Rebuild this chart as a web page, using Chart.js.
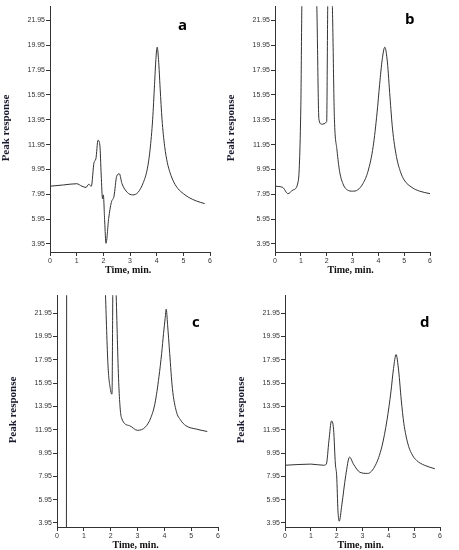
<!DOCTYPE html><html><head><meta charset="utf-8">
<script src="https://cdn.jsdelivr.net/npm/chart.js@4"></script>
<style>
body{margin:0;background:#fff;width:459px;height:550px;position:relative;overflow:hidden}
canvas{position:absolute}
.yl{position:absolute;font:bold 11px "Liberation Serif";color:#1a1a2e;transform:rotate(-90deg);transform-origin:center;white-space:nowrap}
.xl{position:absolute;font:bold 10px "Liberation Serif";color:#111;white-space:nowrap}
.lt{position:absolute;font:bold 15px "Open Sans";color:#000}
</style></head><body>
<div id="w"></div>
<script>
const yTicks=[3.95,5.95,7.95,9.95,11.95,13.95,15.95,17.95,19.95,21.95];
const xTicks=[0,1,2,3,4,5,6];
const aX=[0,0.5,1,1.2,1.35,1.45,1.55,1.65,1.72,1.8,1.87,1.92,1.97,2.0,2.05,2.1,2.2,2.3,2.4,2.5,2.6,2.7,2.9,3.1,3.3,3.5,3.65,3.75,3.85,3.92,3.97,4.02,4.07,4.13,4.2,4.3,4.4,4.5,4.65,4.8,5.0,5.2,5.5,5.8];
const aY=[8.6,8.7,8.8,8.6,8.5,8.75,8.6,10.5,10.8,12.3,11.9,9.5,7.6,7.9,5.8,4.0,6.0,7.3,7.8,9.4,9.6,8.8,8.1,7.9,8.1,8.9,10.0,11.5,14.0,16.8,18.8,19.8,18.8,16.5,14.0,11.8,10.5,9.7,8.9,8.4,8.0,7.7,7.4,7.2];
const bX=[0,0.3,0.5,0.7,0.9,1.0,1.05,1.6,1.7,1.8,2.0,2.05,2.2,2.3,2.4,2.5,2.65,2.8,3.0,3.2,3.4,3.6,3.8,3.95,4.05,4.15,4.25,4.35,4.45,4.55,4.7,4.85,5.0,5.3,5.6,6.0];
const bY=[8.6,8.5,8.0,8.3,9.0,15,24,24,14,13.6,13.8,24,24,14,11.5,9.8,8.7,8.3,8.2,8.3,8.8,9.8,11.8,14.5,16.8,18.8,19.8,18.6,15.8,13.2,11.0,9.8,9.1,8.5,8.2,8.0];
const cX=[0.35,0.36,null,1.8,1.9,2.0,2.05,2.08,null,2.2,2.3,2.4,2.7,3.0,3.3,3.5,3.65,3.8,3.9,3.97,4.03,4.07,4.12,4.2,4.3,4.45,4.6,4.8,5.2,5.6];
const cY=[2,24,null,24,17.5,15.3,15.0,24,null,24,16,13,12.3,11.9,12.2,13.0,14.2,16.5,18.5,20.2,21.5,22.3,21.0,18.5,15.5,13.5,12.8,12.3,12.0,11.8];
const dX=[0,1,1.5,1.6,1.7,1.8,1.88,1.95,2.0,2.05,2.1,2.2,2.35,2.5,2.65,2.9,3.2,3.5,3.75,3.95,4.1,4.2,4.3,4.4,4.5,4.6,4.75,4.9,5.1,5.4,5.8];
const dY=[8.9,9.0,8.9,9.0,11,12.7,12.0,9,8,5,4.1,5.5,8.0,9.6,9.0,8.3,8.2,8.9,10.5,12.8,15.2,17.2,18.4,17.0,14.5,12.5,10.8,9.9,9.3,8.9,8.6];
const panels=[
 {x:aX,y:aY,l:50,r:210,t:6,b:252,ymin:3.3,ymax:23.1,lt:'a',lx:178,ly:14},
 {x:bX,y:bY,l:275,r:430,t:6,b:252,ymin:3.3,ymax:23.1,lt:'b',lx:405,ly:8},
 {x:cX,y:cY,l:57,r:218,t:295,b:527,ymin:3.6,ymax:23.5,lt:'c',lx:192,ly:311},
 {x:dX,y:dY,l:285,r:440,t:295,b:527,ymin:3.6,ymax:23.5,lt:'d',lx:420,ly:311}];
const W=document.getElementById('w');
panels.forEach(p=>{
 const cv=document.createElement('canvas');
 const L=p.l-45,T=p.t-5,w=p.r-p.l+55,h=p.b-p.t+25;
 cv.style.left=L+'px';cv.style.top=T+'px';cv.style.width=w+'px';cv.style.height=h+'px';
 cv.width=w;cv.height=h;W.appendChild(cv);
 const pts=p.x.map((v,i)=>v===null?{x:null,y:null}:{x:v,y:p.y[i]});
 new Chart(cv,{type:'line',data:{datasets:[{data:pts,borderColor:'#333',borderWidth:1,pointRadius:0,cubicInterpolationMode:'monotone',spanGaps:false}]},
 options:{responsive:false,animation:false,layout:{padding:{top:5,right:10}},plugins:{legend:{display:false},tooltip:{enabled:false}},
 scales:{x:{type:'linear',min:0,max:6,afterBuildTicks:s=>{s.ticks=xTicks.map(v=>({value:v}))},afterFit:s=>{s.height=20},
   ticks:{font:{size:7},color:'#333',padding:1},grid:{drawOnChartArea:false,tickLength:4,color:'#333'},border:{color:'#333'}},
  y:{min:p.ymin,max:p.ymax,afterBuildTicks:s=>{s.ticks=yTicks.map(v=>({value:v}))},afterFit:s=>{s.width=45},
   ticks:{font:{size:7},color:'#333',padding:1,callback:v=>v.toFixed(2)},grid:{drawOnChartArea:false,tickLength:4,color:'#333'},border:{color:'#333'}}}}});
 const yl=document.createElement('div');yl.className='yl';yl.textContent='Peak response';
 yl.style.left=(p.l-85)+'px';yl.style.top=((p.t+p.b)/2-7)+'px';yl.style.width='80px';yl.style.textAlign='center';W.appendChild(yl);
 const xl=document.createElement('div');xl.className='xl';xl.textContent='Time, min.';
 xl.style.left=((p.l+p.r)/2-25)+'px';xl.style.top=(p.b+12)+'px';W.appendChild(xl);
 const lt=document.createElement('div');lt.className='lt';lt.textContent=p.lt;lt.style.left=p.lx+'px';lt.style.top=p.ly+'px';W.appendChild(lt);
});
</script></body></html>
